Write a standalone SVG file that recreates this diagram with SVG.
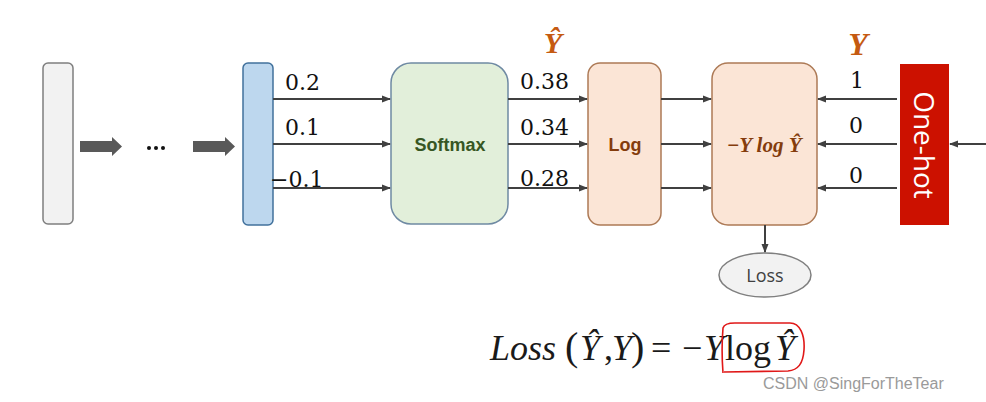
<svg xmlns="http://www.w3.org/2000/svg" width="986" height="402" viewBox="0 0 986 402">
<defs>
<marker id="ah" markerUnits="userSpaceOnUse" markerWidth="9" markerHeight="8" refX="8" refY="4" orient="auto">
<path d="M0,0.5 L9,4 L0,7.5 Z" fill="#404040"/>
</marker>
<style>
.ln{stroke:#404040;stroke-width:2;fill:none;marker-end:url(#ah)}
.num{font-family:"DejaVu Serif","Liberation Serif",serif;font-size:22px;fill:#111}
.lbl{font-family:"Liberation Sans",Arial,sans-serif;font-weight:bold;font-size:18px;text-anchor:middle}
.math{font-family:"Liberation Serif","Times New Roman",serif;fill:#1a1a1a}
.it{font-style:italic}
.big{fill:#595959}
</style>
</defs>
<rect width="986" height="402" fill="#ffffff"/>

<g id="input">
<rect x="43" y="63" width="30" height="161" rx="5" fill="#f2f2f2" stroke="#7f7f7f" stroke-width="1.5"/>
</g>
<g id="bigarrows">
<path class="big" d="M80,141 H112 V137 L122,146.5 L112,156 V152 H80 Z"/>
<path class="big" d="M193,141 H225 V137 L235,146.5 L225,156 V152 H193 Z"/>
<circle cx="149" cy="148" r="2" fill="#111"/><circle cx="156" cy="148" r="2" fill="#111"/><circle cx="163" cy="148" r="2" fill="#111"/>
</g>
<g id="logits">
<rect x="243" y="63" width="30" height="162" rx="5" fill="#bdd7ee" stroke="#41719c" stroke-width="1.5"/>
</g>
<g id="softmax">
<rect x="391" y="63" width="117" height="161" rx="20" fill="#e2efda" stroke="#6f8aa3" stroke-width="1.5"/>
<text class="lbl" x="450" y="151" fill="#375623">Softmax</text>
</g>
<g id="log">
<rect x="588" y="63" width="73" height="162" rx="12" fill="#fbe5d6" stroke="#ad7a56" stroke-width="1.5"/>
<text class="lbl" x="625" y="151" fill="#843c0c">Log</text>
</g>
<g id="neglog">
<rect x="712" y="63" width="105" height="162" rx="16" fill="#fbe5d6" stroke="#ad7a56" stroke-width="1.5"/>
<text x="764" y="152" text-anchor="middle" font-family="'Liberation Serif','Times New Roman',serif" font-weight="bold" font-style="italic" font-size="21" fill="#843c0c">−Y log Ŷ</text>
</g>
<g id="onehot">
<rect x="900" y="64" width="49" height="161" fill="#cc1100"/>
<text transform="translate(914,145) rotate(90)" text-anchor="middle" font-family="'Open Sans','Liberation Sans',sans-serif" font-size="28" fill="#ffffff">One-hot</text>
</g>
<g id="loss">
<ellipse cx="765" cy="275" rx="46" ry="22" fill="#f2f2f2" stroke="#7f7f7f" stroke-width="1.5"/>
<text x="765" y="282" text-anchor="middle" font-family="'Open Sans','Liberation Sans',sans-serif" font-size="18" fill="#404040">Loss</text>
</g>

<g id="connectors">
<line class="ln" x1="273" y1="99" x2="390" y2="99"/>
<line class="ln" x1="273" y1="144" x2="390" y2="144"/>
<line class="ln" x1="273" y1="188" x2="390" y2="188"/>
<line class="ln" x1="508" y1="99" x2="587" y2="99"/>
<line class="ln" x1="508" y1="144" x2="587" y2="144"/>
<line class="ln" x1="508" y1="188" x2="587" y2="188"/>
<line class="ln" x1="661" y1="99" x2="711" y2="99"/>
<line class="ln" x1="661" y1="144" x2="711" y2="144"/>
<line class="ln" x1="661" y1="188" x2="711" y2="188"/>
<line class="ln" x1="897" y1="99" x2="818" y2="99"/>
<line class="ln" x1="897" y1="144" x2="818" y2="144"/>
<line class="ln" x1="897" y1="188" x2="818" y2="188"/>
<line class="ln" x1="986" y1="144" x2="950" y2="144"/>
<line class="ln" x1="765" y1="225" x2="765" y2="252"/>
</g>

<g id="labels">
<text class="num" x="285" y="90">0.2</text>
<text class="num" x="285" y="135">0.1</text>
<text class="num" x="270" y="187">−0.1</text>
<text class="num" x="520" y="89">0.38</text>
<text class="num" x="520" y="135">0.34</text>
<text class="num" x="520" y="186">0.28</text>
<text class="num" x="850" y="88">1</text>
<text class="num" x="849" y="133">0</text>
<text class="num" x="849" y="183">0</text>
<text x="553" y="53" text-anchor="middle" font-family="'Liberation Serif',serif" font-weight="bold" font-style="italic" font-size="30" fill="#c55a11">Ŷ</text>
<text x="858" y="55" text-anchor="middle" font-family="'Liberation Serif',serif" font-weight="bold" font-style="italic" font-size="32" fill="#c55a11">Y</text>
</g>

<g id="formula">
<text class="math" y="360" font-size="36"><tspan class="it" x="490">Loss</tspan><tspan x="565" font-size="40">(</tspan><tspan class="it" x="580">Ŷ</tspan><tspan x="604">,</tspan><tspan class="it" x="612">Y</tspan><tspan x="631" font-size="40">)</tspan><tspan x="651">=</tspan><tspan x="682">−</tspan><tspan class="it" x="704">Y</tspan><tspan x="725">log</tspan><tspan class="it" x="775">Ŷ</tspan></text>
<path d="M723,373 C722,360 722,340 723,328 C724,324 728,323 735,323 L790,323 C800,323 805,335 804,350 C803,364 798,370 788,371 L724,372" fill="none" stroke="#e01818" stroke-width="1.6"/>
</g>

<text x="763" y="389" font-family="'Liberation Sans',Arial,sans-serif" font-size="16" fill="#9a9a9a">CSDN @SingForTheTear</text>
</svg>
